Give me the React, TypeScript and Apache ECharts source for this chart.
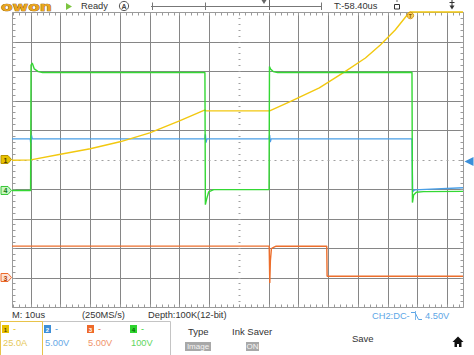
import React, { useEffect, useRef } from "react";
import * as echarts from "echarts";

const FONT = '"Liberation Sans", Arial, sans-serif';
const GRID_COLOR = "#868686";
const FRAME_COLOR = "#9a9a9a";

// Horizontal: time in us, 10 us/div, screen centre = 0
const T_MIN = -76.3;
const T_MAX = 75.3;
const gridTimes = [-70, -60, -50, -40, -30, -20, -10, 10, 20, 30, 40, 50, 60, 70];
// Vertical: divisions, centre = 0
const gridDivs = [-4, -3, -2, -1, 1, 2, 3, 4];

// CH1 current (A) – 25.0 A/div
const ch1Scale = 25;
const ch1Offset = 0;
const ch1: number[][] = [
  [-76.3, -0.6], [-70, -0.3], [-60, 4.4], [-50, 9.1], [-40, 15], [-30, 22.6], [-20, 32.8],
  [-11.4, 42.1], [-11.2, 41.2], [10.3, 41.2], [17, 48.8], [27, 60.7], [35.5, 74.2],
  [42.5, 86], [47.5, 97], [52.5, 109.7], [56.8, 123.3], [57.5, 125], [75.3, 125],
];

// CH2 voltage (V) – 5.00 V/div
const ch2Scale = 5;
const ch2Offset = -0.97;
const ch2: number[][] = [
  [-76.3, 8.35], [-70.15, 8.35], [-70, 7.6], [-69.8, 9.0], [-69.5, 8.35],
  [-11.45, 8.35], [-11.3, 9.1], [-11.1, 7.7], [-10.8, 8.35],
  [10.15, 8.35], [10.3, 9.0], [10.5, 7.8], [10.8, 8.35],
  [58.15, 8.35], [58.35, -0.6], [59, -0.3], [75.3, 0.05],
];

// CH3 voltage (V) – 5.00 V/div
const ch3Scale = 5;
const ch3Offset = -4;
const ch3: number[][] = [
  [-76.3, 5.32], [10.15, 5.32], [10.35, -0.94], [10.55, 2.8], [10.9, 4.9], [11.6, 5.1],
  [12.5, 5.3], [29.5, 5.32], [29.62, 0.21], [75.3, 0.21],
];

// CH4 voltage (V) – 100 V/div
const ch4Scale = 100;
const ch4Offset = -1.05;
const ch4: number[][] = [
  [-76.3, 0], [-70.05, 0], [-69.9, 425], [-69.5, 432], [-68.8, 412], [-67.5, 403], [-66, 400],
  [-11.45, 400], [-11.3, -48], [-10.9, -30], [-10.2, -5], [-8.5, 3],
  [10.1, 3], [10.25, 420], [10.6, 412], [11.5, 403], [13, 400],
  [58.15, 401], [58.3, -41], [58.7, -15], [59.6, -6], [62, -4], [75.3, -3],
];

const trigLevel = 4.5; // V on CH2
const trigTime = 57.6; // us

const toDiv = (arr: number[][], scale: number, off: number) =>
  arr.map(([t, v]) => [t, v / scale + off]);

function txt(text: string, x: number, y: number, fill: string, size = 9.3, align = "left", weight = "normal") {
  return {
    type: "text",
    style: { text, x, y, fill, font: `${weight} ${size}px ${FONT}`, align, verticalAlign: "middle" },
  };
}

export default function App() {
  const ref = useRef<HTMLDivElement>(null);
  useEffect(() => {
    if (!ref.current) return;
    const chart = echarts.init(ref.current, undefined, { renderer: "svg" });

    const graticule = (params: any, api: any) => {
      const px = (v: number) => Math.round(v) + 0.5;
      const [xa, ya] = api.coord([T_MIN, 5]);
      const [xb, yb] = api.coord([T_MAX, -5]);
      const x0 = px(xa), x1 = px(xb), yTop = px(ya), yBot = px(yb);
      const xc = px(api.coord([0, 0])[0]);
      const yc = px(api.coord([0, 0])[1]);
      const ch: any[] = [];
      const line = (a: number, b: number, c: number, d: number, stroke = GRID_COLOR) =>
        ch.push({ type: "line", shape: { x1: a, y1: b, x2: c, y2: d }, style: { stroke, lineWidth: 1 } });
      for (const t of gridTimes) {
        const x = px(api.coord([t, 0])[0]);
        line(x, yTop, x, yBot);
      }
      for (const d of gridDivs) {
        const y = px(api.coord([0, d])[1]);
        line(x0, y, x1, y);
      }
      // frame
      line(x0, yTop, x1, yTop, FRAME_COLOR);
      line(x0, yBot, x1, yBot, FRAME_COLOR);
      line(x0, yTop, x0, yBot, FRAME_COLOR);
      line(x1, yTop, x1, yBot, FRAME_COLOR);
      // minor ticks along time
      for (let k = Math.ceil(T_MIN / 2); k <= Math.floor(T_MAX / 2); k++) {
        const x = px(api.coord([k * 2, 0])[0]);
        line(x, yTop, x, yTop + 3, FRAME_COLOR);
        line(x, yBot - 3, x, yBot, FRAME_COLOR);
        ch.push({ type: "rect", shape: { x: x - 1, y: yc - 0.5, width: 2, height: 1 }, style: { fill: "#a0a0a0" } });
      }
      // minor ticks along vertical
      for (let k = -25; k <= 25; k++) {
        const y = px(api.coord([0, k / 5])[1]);
        line(x0, y, x0 + 3, y, FRAME_COLOR);
        line(x1 - 3, y, x1, y, FRAME_COLOR);
        ch.push({ type: "rect", shape: { x: xc - 1, y: y - 0.5, width: 2, height: 1 }, style: { fill: "#a0a0a0" } });
      }
      return { type: "group", children: ch };
    };

    const markers = (params: any, api: any) => {
      const ch: any[] = [];
      const mk = (div: number, label: string, fill: string, stroke: string, color: string) => {
        const y = api.coord([T_MIN, div])[1];
        ch.push({
          type: "polygon",
          shape: { points: [[1, y - 4], [8, y - 4], [11.5, y], [8, y + 4], [1, y + 4]] },
          style: { fill, stroke, lineWidth: 1 },
        });
        ch.push({
          type: "text",
          style: { text: label, x: 5.5, y: y + 0.5, font: `bold 7px ${FONT}`, fill: color, align: "center", verticalAlign: "middle" },
        });
      };
      mk(ch1Offset, "1", "#e8c200", "#b89400", "#4a3a00");
      mk(ch4Offset, "4", "#c9f5c2", "#36c836", "#137a13");
      mk(ch3Offset, "3", "#fde3d6", "#ee6a2a", "#b34000");
      const yt = api.coord([T_MAX, ch2Offset + trigLevel / ch2Scale])[1];
      ch.push({
        type: "polygon",
        shape: { points: [[473.5, yt - 4.5], [464.5, yt], [473.5, yt + 4.5]] },
        style: { fill: "#3b8fd9" },
      });
      const [xt, ytop] = api.coord([trigTime, 5]);
      ch.push({ type: "circle", shape: { cx: xt, cy: ytop + 3.5, r: 3.3 }, style: { fill: "#f7cf5a", stroke: "#cc8a00", lineWidth: 0.8 } });
      ch.push({
        type: "text",
        style: { text: "T", x: xt, y: ytop + 3.8, font: `bold 5px ${FONT}`, fill: "#8a5000", align: "center", verticalAlign: "middle" },
      });
      return { type: "group", children: ch };
    };

    const lineSeries = (name: string, data: number[][], color: string, z: number) => ({
      name,
      type: "line",
      data,
      showSymbol: false,
      symbol: "none",
      clip: false,
      silent: true,
      z,
      lineStyle: { color, width: 1.4 },
      itemStyle: { color },
    });

    const graphic: any[] = [
      // header
      {
        type: "text",
        x: 1,
        y: 0,
        scaleX: 1.3,
        style: {
          text: "owon", x: 0, y: 7, font: 'bold 13px "DejaVu Sans", sans-serif',
          fill: "#eaa61c", stroke: "#7a4800", lineWidth: 0.7, verticalAlign: "middle",
        },
      },
      { type: "polygon", shape: { points: [[66, 3], [72, 6.5], [66, 10]] }, style: { fill: "#7cc540" } },
      txt("Ready", 81, 6, "#333"),
      { type: "circle", shape: { cx: 124, cy: 6, r: 4.6 }, style: { fill: "none", stroke: "#555", lineWidth: 1 } },
      txt("A", 124, 6.5, "#444", 7, "center", "bold"),
      { type: "line", shape: { x1: 151, y1: 6.5, x2: 322, y2: 6.5 }, style: { stroke: "#777", lineWidth: 1 } },
      { type: "line", shape: { x1: 152.5, y1: 2.5, x2: 152.5, y2: 10 }, style: { stroke: "#777", lineWidth: 1 } },
      { type: "line", shape: { x1: 205.5, y1: 2.5, x2: 205.5, y2: 10 }, style: { stroke: "#777", lineWidth: 1 } },
      { type: "line", shape: { x1: 269.5, y1: 0, x2: 269.5, y2: 10 }, style: { stroke: "#666", lineWidth: 1 } },
      { type: "line", shape: { x1: 321.5, y1: 2.5, x2: 321.5, y2: 10 }, style: { stroke: "#777", lineWidth: 1 } },
      { type: "polygon", shape: { points: [[261.5, 0], [266.5, 0], [264, 4]] }, style: { fill: "#666" } },
      txt("T:-58.40us", 334, 6, "#333"),
      { type: "rect", shape: { x: 394.5, y: 4.5, width: 5, height: 4.5 }, style: { fill: "none", stroke: "#333", lineWidth: 1 } },
      { type: "line", shape: { x1: 397, y1: 0, x2: 397, y2: 2 }, style: { stroke: "#666", lineWidth: 1 } },
      { type: "line", shape: { x1: 449.5, y1: 2.5, x2: 454.5, y2: 2.5 }, style: { stroke: "#333", lineWidth: 1 } },
      { type: "line", shape: { x1: 452, y1: 0, x2: 452, y2: 7 }, style: { stroke: "#333", lineWidth: 1 } },
      { type: "polygon", shape: { points: [[449.5, 5.5], [454.5, 5.5], [452, 9.5]] }, style: { fill: "#333" } },

      // status line
      txt("M: 10us", 12, 315, "#333"),
      txt("(250MS/s)", 82, 315, "#333"),
      txt("Depth:100K(12-bit)", 148, 315, "#333"),
      txt("CH2:DC-", 372, 316, "#5da6e6"),
      {
        type: "polyline",
        shape: { points: [[411, 312.5], [415, 312.5], [418.5, 319.5], [422, 319.5]] },
        style: { stroke: "#5da6e6", lineWidth: 1, fill: "none" },
      },
      { type: "line", shape: { x1: 415.5, y1: 311, x2: 415.5, y2: 320 }, style: { stroke: "#5da6e6", lineWidth: 0.8 } },
      txt("4.50V", 425, 316, "#5da6e6"),

      // bottom panel
      { type: "rect", shape: { x: 0.5, y: 321.5, width: 170, height: 40 }, style: { fill: "none", stroke: "#c4c4c4", lineWidth: 1 } },
      { type: "rect", shape: { x: 0.5, y: 321.5, width: 42, height: 40 }, style: { fill: "none", stroke: "#e8c34a", lineWidth: 1 } },

      { type: "rect", shape: { x: 2, y: 325, width: 7, height: 8 }, style: { fill: "#e8c000" } },
      txt("1", 5.5, 329.5, "#5a4a00", 6, "center", "bold"),
      txt("-", 13, 328.5, "#e8c000", 9),
      { type: "rect", shape: { x: 44, y: 325, width: 7, height: 8 }, style: { fill: "#3d8fd8" } },
      txt("2", 47.5, 329.5, "#ffffff", 6, "center", "bold"),
      txt("-", 55, 328.5, "#3d8fd8", 9),
      { type: "rect", shape: { x: 87, y: 325, width: 7, height: 8 }, style: { fill: "#ee6a2a" } },
      txt("3", 90.5, 329.5, "#ffffff", 6, "center", "bold"),
      txt("-", 98, 328.5, "#ee6a2a", 9),
      { type: "rect", shape: { x: 130, y: 325, width: 7, height: 8 }, style: { fill: "#2ed42e" } },
      txt("4", 133.5, 329.5, "#0a5a0a", 6, "center", "bold"),
      txt("-", 141, 328.5, "#2ed42e", 9),

      txt("25.0A", 3, 343, "#e6c85a"),
      txt("5.00V", 45, 343, "#66a8e6"),
      txt("5.00V", 88, 343, "#f0946a"),
      txt("100V", 131, 343, "#5ed65e"),

      txt("Type", 188, 331, "#333", 9.5),
      { type: "rect", shape: { x: 185, y: 342, width: 26, height: 9 }, style: { fill: "#a8a8a8" } },
      txt("Image", 198, 346.5, "#f4f4f4", 8, "center"),
      txt("Ink Saver", 232, 331, "#333", 9.5),
      { type: "rect", shape: { x: 246, y: 342, width: 13, height: 9 }, style: { fill: "#a8a8a8" } },
      txt("ON", 252.5, 346.5, "#f4f4f4", 8, "center"),
      txt("Save", 352, 338, "#333", 9.5),
      { type: "polygon", shape: { points: [[452.5, 342], [458, 336.5], [463.5, 342]] }, style: { fill: "#111" } },
      { type: "rect", shape: { x: 454.5, y: 341.5, width: 7, height: 5.5 }, style: { fill: "#111" } },
      { type: "rect", shape: { x: 457, y: 344, width: 2, height: 3 }, style: { fill: "#fff" } },
    ];

    chart.setOption({
      animation: false,
      backgroundColor: "#ffffff",
      grid: { left: 12, top: 12, width: 451, height: 295 },
      xAxis: { type: "value", min: T_MIN, max: T_MAX, show: false },
      yAxis: { type: "value", min: -5, max: 5, show: false },
      graphic,
      series: [
        { type: "custom", renderItem: graticule, data: [[0, 0]], z: 1, silent: true, clip: false },
        lineSeries("CH3", toDiv(ch3, ch3Scale, ch3Offset), "#ec6e2c", 3),
        lineSeries("CH2", toDiv(ch2, ch2Scale, ch2Offset), "#4a9fe6", 4),
        lineSeries("CH1", toDiv(ch1, ch1Scale, ch1Offset), "#f2c80f", 5),
        lineSeries("CH4", toDiv(ch4, ch4Scale, ch4Offset), "#34d834", 6),
        { type: "custom", renderItem: markers, data: [[0, 0]], z: 10, silent: true, clip: false },
      ],
    });
    return () => chart.dispose();
  }, []);
  return (
    <div
      ref={ref}
      style={{ position: "absolute", left: 0, top: 0, width: 474, height: 355, background: "#fff" }}
    />
  );
}
